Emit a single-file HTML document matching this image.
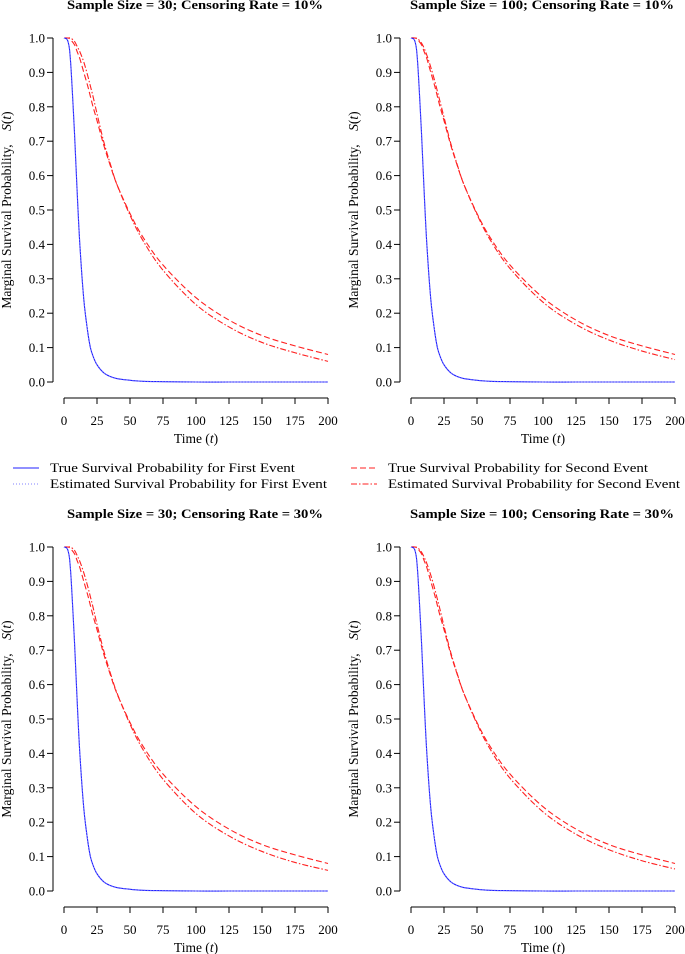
<!DOCTYPE html>
<html><head><meta charset="utf-8"><style>
body{margin:0;background:#fff;}
svg{display:block;font-family:"Liberation Serif",serif;}
</style></head><body>
<svg id="c" width="685" height="954" viewBox="0 0 685 954" xmlns="http://www.w3.org/2000/svg"></svg>
<script>
const times=[0,3,5,8,10,12,15,18,20,22,25,30,35,40,50,60,75,100,125,150,175,200];
const trueFirst=[1,0.99,0.93,0.72,0.55,0.40,0.24,0.145,0.10,0.075,0.05,0.027,0.016,0.01,0.005,0.002,0.001,0,0,0,0,0];
const estFirst=[1,0.99,0.93,0.72,0.55,0.40,0.24,0.145,0.10,0.075,0.05,0.027,0.016,0.01,0.005,0.002,0.001,0,0,0,0,0];
const trueSecond=[1,1,0.995,0.98,0.96,0.94,0.90,0.86,0.83,0.80,0.76,0.69,0.63,0.575,0.49,0.42,0.34,0.245,0.18,0.135,0.105,0.08];
const estSecondA=[1,1,1,0.99,0.975,0.96,0.93,0.89,0.86,0.83,0.78,0.70,0.635,0.575,0.485,0.41,0.325,0.225,0.16,0.115,0.085,0.06];
const estSecondB=[1,1,0.998,0.985,0.97,0.95,0.915,0.875,0.845,0.815,0.77,0.695,0.632,0.575,0.487,0.413,0.33,0.232,0.167,0.122,0.09,0.065];
const estSecondC=[1,1,1,0.99,0.975,0.958,0.925,0.885,0.855,0.825,0.775,0.70,0.635,0.577,0.485,0.41,0.325,0.225,0.16,0.115,0.083,0.06];
const estSecondD=[1,1,0.998,0.985,0.97,0.952,0.918,0.878,0.848,0.818,0.77,0.695,0.632,0.575,0.486,0.412,0.328,0.23,0.165,0.12,0.088,0.064];
const xTicks=[0,25,50,75,100,125,150,175,200];
const yTicks=[0,0.1,0.2,0.3,0.4,0.5,0.6,0.7,0.8,0.9,1.0];
const titles=["Sample Size = 30; Censoring Rate = 10%","Sample Size = 100; Censoring Rate = 10%","Sample Size = 30; Censoring Rate = 30%","Sample Size = 100; Censoring Rate = 30%"];
const estSeconds=[estSecondA,estSecondB,estSecondC,estSecondD];
const NS="http://www.w3.org/2000/svg";
const svg=document.getElementById('c');
function mk(tag,attrs,parent){const e=document.createElementNS(NS,tag);for(const k in attrs)e.setAttribute(k,attrs[k]);(parent||svg).appendChild(e);return e;}
function smooth(pts){let d="M"+pts[0][0]+","+pts[0][1];for(let i=0;i<pts.length-1;i++){const p0=pts[Math.max(i-1,0)],p1=pts[i],p2=pts[i+1],p3=pts[Math.min(i+2,pts.length-1)];const c1x=p1[0]+(p2[0]-p0[0])/6,c1y=p1[1]+(p2[1]-p0[1])/6,c2x=p2[0]-(p3[0]-p1[0])/6,c2y=p2[1]-(p3[1]-p1[1])/6;d+=" C"+c1x.toFixed(2)+","+c1y.toFixed(2)+" "+c2x.toFixed(2)+","+c2y.toFixed(2)+" "+p2[0].toFixed(2)+","+p2[1].toFixed(2);}return d;}
const panels=[{x0:64,x1:328,ax:53,y1:38,y0:382},{x0:411,x1:675,ax:400,y1:38,y0:382},{x0:64,x1:328,ax:53,y1:547,y0:891},{x0:411,x1:675,ax:400,y1:547,y0:891}];
panels.forEach((p,i)=>{
  const g=mk('g',{});
  
  
  const X=t=>p.x0+(t/200)*(p.x1-p.x0);
  const Y=v=>p.y0-v*(p.y0-p.y1);
  const tt=mk('text',{x:(p.x0+p.x1)/2-1,y:p.y1-29,'text-anchor':'middle','font-size':12.5,'font-weight':'bold',textLength:(i%2?264:256),lengthAdjust:'spacingAndGlyphs'},g);
  tt.textContent=titles[i];
  
  
  const ya=mk('line',{x1:p.ax,x2:p.ax,y1:p.y1,y2:p.y0,stroke:'#000','stroke-width':1},g);
  
  
  yTicks.forEach(v=>{mk('line',{x1:p.ax-6,x2:p.ax,y1:Y(v),y2:Y(v),stroke:'#000'},g);
    const l=mk('text',{x:p.ax-8,y:Y(v)+4.5,'text-anchor':'end','font-size':13},g);l.textContent=v.toFixed(1);
    
    });
  const xy=p.y0+16;
  const xa=mk('line',{x1:p.x0,x2:p.x1,y1:xy,y2:xy,stroke:'#000'},g);
  
  
  xTicks.forEach(t=>{mk('line',{x1:X(t),x2:X(t),y1:xy,y2:xy+6,stroke:'#000'},g);
    const l=mk('text',{x:X(t),y:xy+27,'text-anchor':'middle','font-size':13},g);l.textContent=t;
    
    });
  const xt=mk('text',{x:(p.x0+p.x1)/2,y:xy+45,'text-anchor':'middle','font-size':13.5},g);
  xt.innerHTML='Time (<tspan font-style="italic">t</tspan>)';
  
  
  const yx=p.ax-42, ym=(p.y0+p.y1)/2;
  const yt=mk('text',{x:yx,y:ym,'text-anchor':'middle','font-size':13.5,transform:'rotate(-90 '+yx+' '+ym+')'},g);
  yt.innerHTML='Marginal Survival Probability,\u2003<tspan font-style="italic">S</tspan>(<tspan font-style="italic">t</tspan>)';
  
  
  const series=[[trueSecond,'#ff2020','6,3','true-second'],[estSeconds[i],'#ff2020','6,2,1.5,2','estimated-second'],[trueFirst,'#2020ff','','true-first'],[estFirst,'#8080ff','1,2','estimated-first']];
  series.forEach(s=>{const pts=times.map((t,k)=>[X(t),Y(s[0][k])]);
    const a={d:smooth(pts),fill:'none',stroke:s[1],'stroke-width':1.1};if(s[2])a['stroke-dasharray']=s[2];
    const pa=mk('path',a,g);
    
    });
});
const legend=[[17,468,'#2020ff','','True Survival Probability for First Event',245],[17,484,'#8080ff','1,2','Estimated Survival Probability for First Event',277],[355,468,'#ff2020','6,3','True Survival Probability for Second Event',260],[355,484,'#ff2020','6,2,1.5,2','Estimated Survival Probability for Second Event',292]];
legend.forEach(l=>{const g=mk('g',{});
  
  
  const a={x1:l[0]-4,x2:l[0]+22,y1:l[1],y2:l[1],stroke:l[2],'stroke-width':1.1};if(l[3])a['stroke-dasharray']=l[3];mk('line',a,g);
  const t=mk('text',{x:l[0]+33,y:l[1]+4,'font-size':13,textLength:l[5],lengthAdjust:'spacingAndGlyphs'},g);t.textContent=l[4];});
</script>
</body></html>
